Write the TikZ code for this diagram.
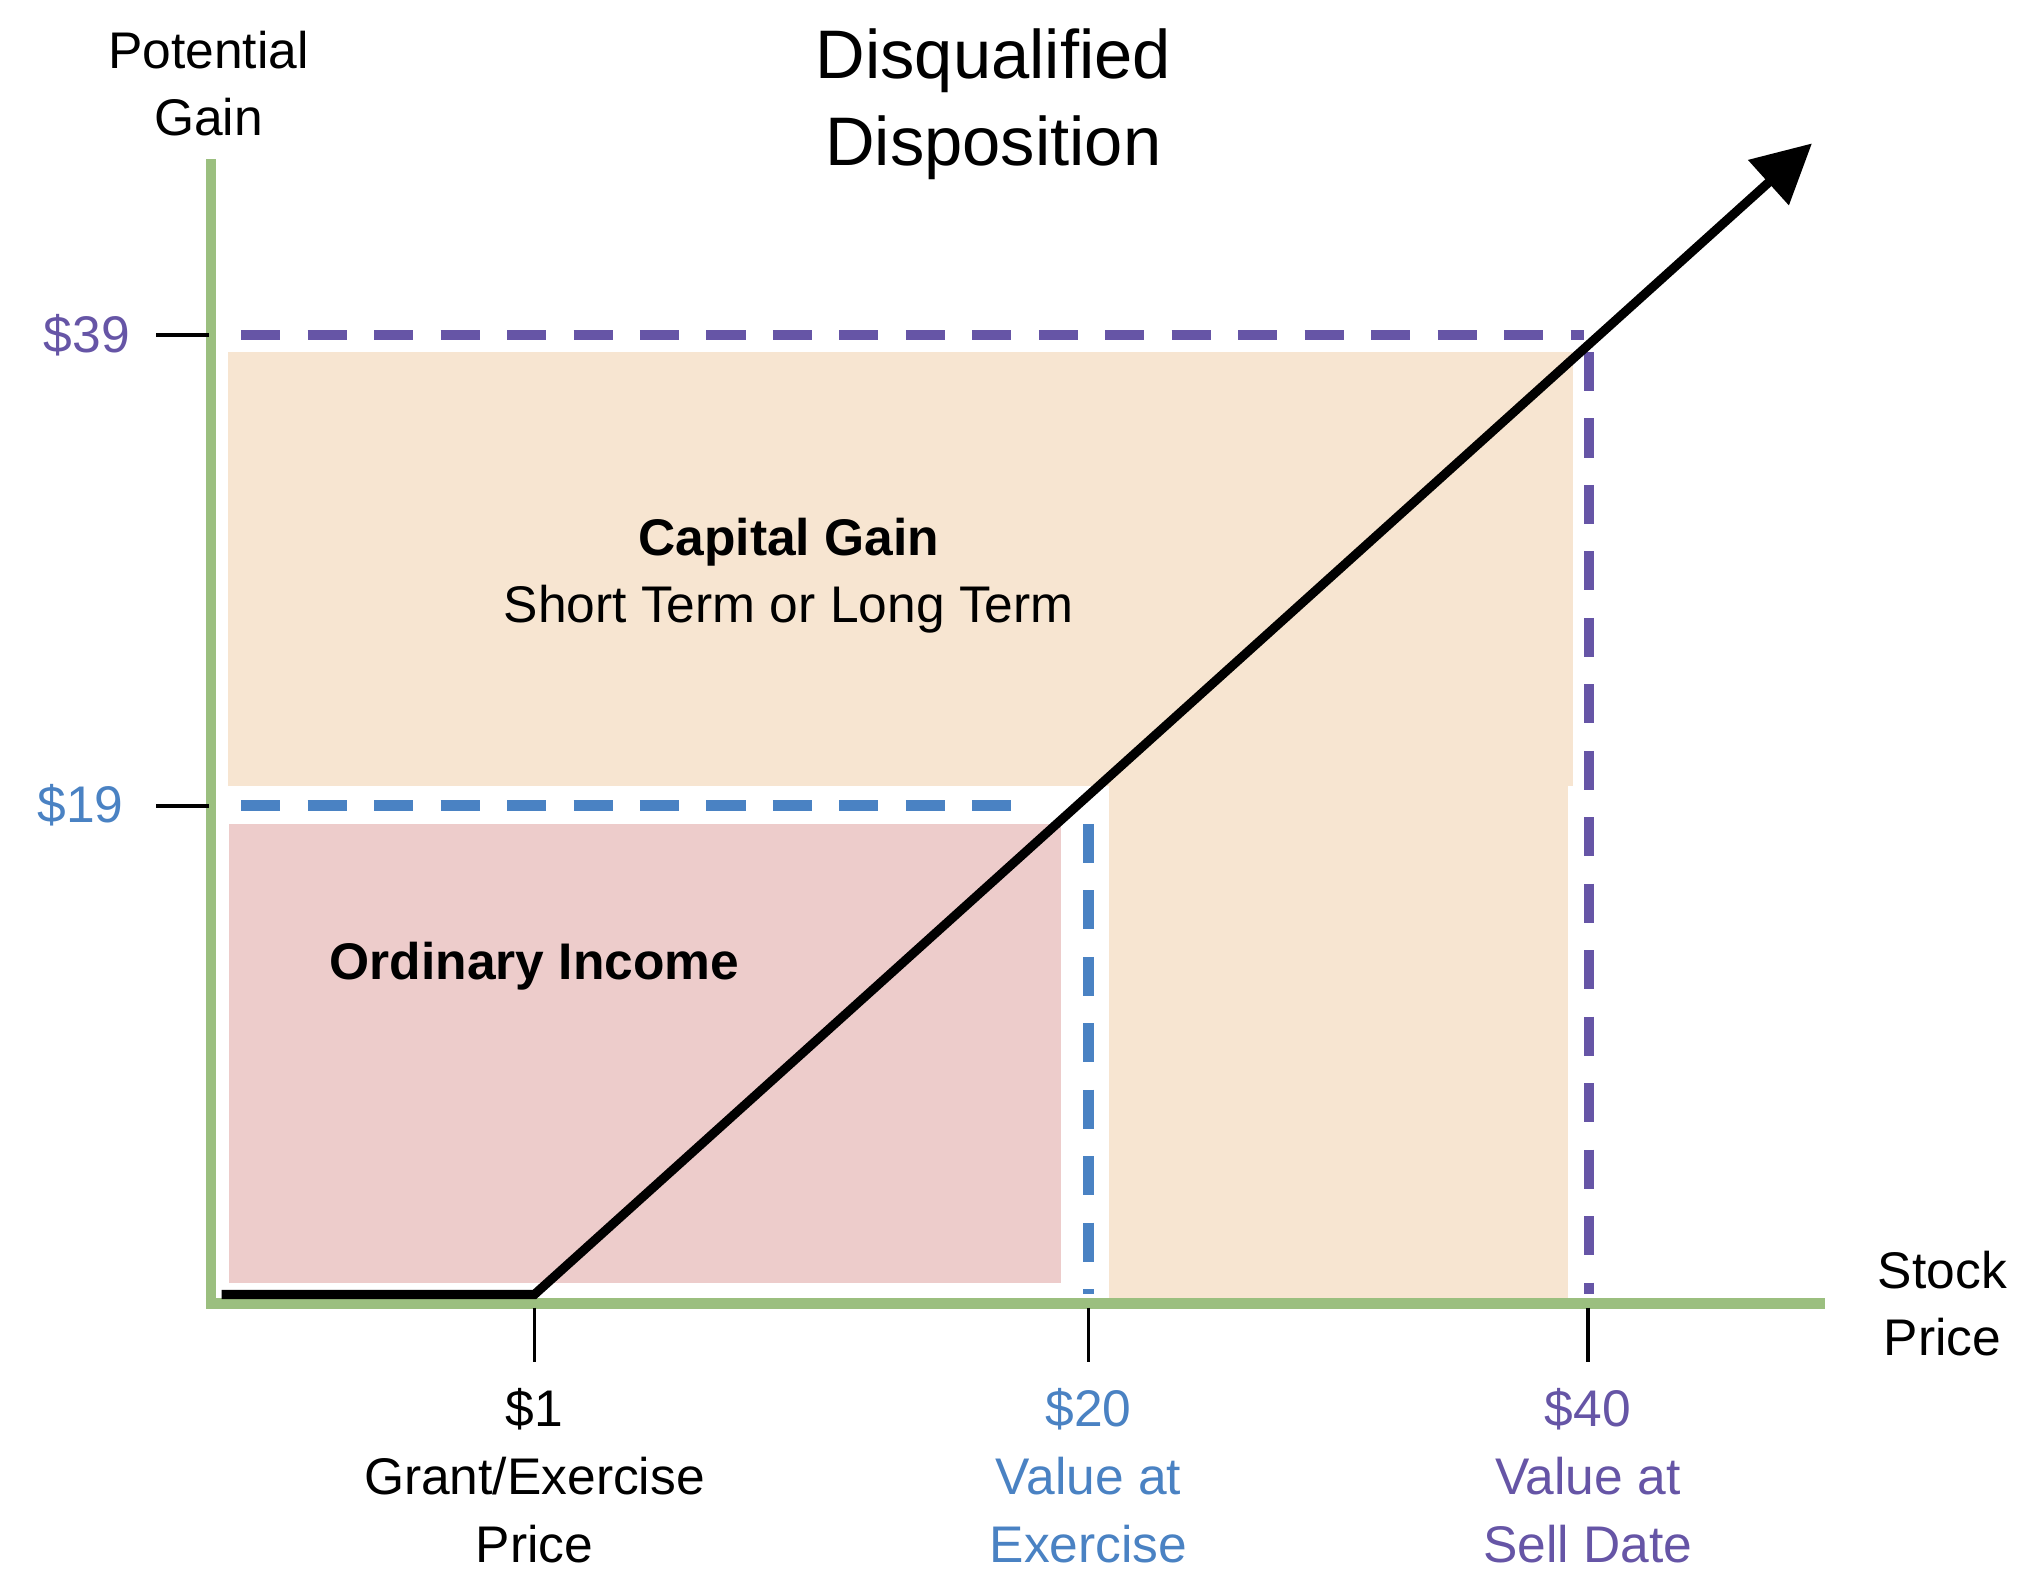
\documentclass[tikz,border=0pt]{standalone}
\usepackage{fontspec}
\setmainfont{Liberation Sans}
\usetikzlibrary{arrows.meta}
\definecolor{gr}{HTML}{9BBF7F}
\definecolor{peach}{HTML}{F7E5D1}
\definecolor{pinkc}{HTML}{EDCCCB}
\definecolor{pur}{HTML}{6655A6}
\definecolor{blu}{HTML}{4A82C3}
\tikzset{lbl/.style={font=\fontsize{22.5}{29.5}\selectfont, align=center, inner sep=0},
dsh/.style={line width=0.16cm, dash pattern=on 0.6cm off 0.42cm}}
\begin{document}
\begin{tikzpicture}[x=0.02cm,y=-0.02cm]
\useasboundingbox (0,0) rectangle (1568,1210);
\fill[peach] (175,270) rectangle (1207,603);
\fill[peach] (851,603) rectangle (1203,997);
\fill[pinkc] (176,632) rectangle (814,984);
\draw[gr, line width=0.16cm] (162,122) -- (162,1003);
\draw[gr, line width=0.16cm] (158,1000) -- (1400,1000);
\draw[pur,dsh] (185,257) -- (1215,257);
\draw[pur,dsh] (1219,270) -- (1219,993);
\draw[blu,dsh] (185,618) -- (790,618);
\draw[blu,dsh] (835,632) -- (835,993);
\coordinate (s) at (170,993); \coordinate (k) at (410,993); \coordinate (e) at (1390,110);
\draw[line width=0.14cm, -{Triangle[length=0.9cm,width=0.9cm]}] (s) -- (k) -- (e);
\draw[line width=0.06cm] (120,257) -- (160,257) (120,618) -- (160,618);
\draw[line width=0.06cm] (410,1003) -- (410,1045) (835,1003) -- (835,1045) (1218,1003) -- (1218,1045);
\node[lbl, pur, anchor=east] (l39) at (100,257) {\$39};
\node[lbl, blu, anchor=east] (l19) at (95,618) {\$19};
\node[lbl, font=\fontsize{30}{38}\selectfont] (t) at (762,80) {Disqualified\\Disposition};
\node[lbl] (pg) at (160,64) {Potential\\Gain};
\node[lbl] (sp) at (1490,1000) {Stock\\Price};
\node[lbl, font=\fontsize{22.5}{29.5}\selectfont\bfseries] (cg) at (605,416) {Capital Gain};
\node[lbl] (st) at (605,467) {Short Term or Long Term};
\node[lbl, font=\fontsize{22.5}{29.5}\selectfont\bfseries] (oi) at (410,741) {Ordinary Income};
\node[lbl, anchor=north] (b1) at (410,1065) {\$1\\Grant/Exercise\\Price};
\node[lbl, blu, anchor=north] (b2) at (835,1065) {\$20\\Value at\\Exercise};
\node[lbl, pur, anchor=north] (b3) at (1218,1065) {\$40\\Value at\\Sell Date};
\end{tikzpicture}
\end{document}
